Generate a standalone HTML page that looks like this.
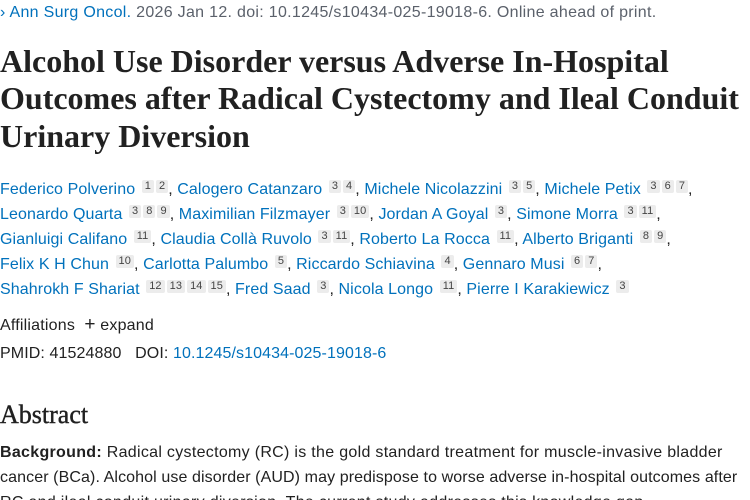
<!DOCTYPE html>
<html><head><meta charset="utf-8"><style>
html,body{margin:0;padding:0;background:#fff;width:750px;height:500px;overflow:hidden}
body{font-family:"Liberation Sans",sans-serif;color:#212121;position:relative}
.l{position:absolute;left:0;white-space:nowrap}
a{color:#0071bc;text-decoration:none}
.t{font-family:"Liberation Serif",serif;font-weight:bold;font-size:32px;color:#212121}
.au{font-size:16px;letter-spacing:0.1px}
.s{display:inline-block;background:#ececec;color:#444;font-size:11px;line-height:13px;padding:0 3px;border-radius:2px;vertical-align:5px;margin-left:2px}
.b{font-size:16px;letter-spacing:0.3px}
</style></head><body>
<div class="l" style="top:4px;font-size:16px;letter-spacing:0.3px"><a>&#x203A; Ann Surg Oncol.</a> <span style="color:#5b616b">2026 Jan 12. doi: 10.1245/s10434-025-19018-6. Online ahead of print.</span></div>
<div class="l t" style="top:43px;">Alcohol Use Disorder versus Adverse In-Hospital</div>
<div class="l t" style="top:80px;">Outcomes after Radical Cystectomy and Ileal Conduit</div>
<div class="l t" style="top:118px;">Urinary Diversion</div>

<div class="l au" style="top:180px;"><a>Federico Polverino</a> <span class="s">1</span><span class="s">2</span>, <a>Calogero Catanzaro</a> <span class="s">3</span><span class="s">4</span>, <a>Michele Nicolazzini</a> <span class="s">3</span><span class="s">5</span>, <a>Michele Petix</a> <span class="s">3</span><span class="s">6</span><span class="s">7</span>,</div>
<div class="l au" style="top:205px;"><a>Leonardo Quarta</a> <span class="s">3</span><span class="s">8</span><span class="s">9</span>, <a>Maximilian Filzmayer</a> <span class="s">3</span><span class="s">10</span>, <a>Jordan A Goyal</a> <span class="s">3</span>, <a>Simone Morra</a> <span class="s">3</span><span class="s">11</span>,</div>
<div class="l au" style="top:230px;"><a>Gianluigi Califano</a> <span class="s">11</span>, <a>Claudia Collà Ruvolo</a> <span class="s">3</span><span class="s">11</span>, <a>Roberto La Rocca</a> <span class="s">11</span>, <a>Alberto Briganti</a> <span class="s">8</span><span class="s">9</span>,</div>
<div class="l au" style="top:255px;"><a>Felix K H Chun</a> <span class="s">10</span>, <a>Carlotta Palumbo</a> <span class="s">5</span>, <a>Riccardo Schiavina</a> <span class="s">4</span>, <a>Gennaro Musi</a> <span class="s">6</span><span class="s">7</span>,</div>
<div class="l au" style="top:280px;"><a>Shahrokh F Shariat</a> <span class="s">12</span><span class="s">13</span><span class="s">14</span><span class="s">15</span>, <a>Fred Saad</a> <span class="s">3</span>, <a>Nicola Longo</a> <span class="s">11</span>, <a>Pierre I Karakiewicz</a> <span class="s">3</span></div>

<div class="l" style="top:317px;font-size:16px;letter-spacing:0.2px">Affiliations &nbsp;<span style="font-size:19px;line-height:15px">+</span> expand</div>
<div class="l" style="top:345px;font-size:16px;letter-spacing:0.1px">PMID: 41524880 &nbsp;&nbsp;DOI: <a>10.1245/s10434-025-19018-6</a></div>

<div class="l" style="top:400px;font-family:'Liberation Serif',serif;font-size:26px;-webkit-text-stroke:0.4px #212121">Abstract</div>
<div class="l b" style="top:444px;"><b>Background:</b> Radical cystectomy (RC) is the gold standard treatment for muscle-invasive bladder</div>
<div class="l b" style="top:469px;letter-spacing:0.1px">cancer (BCa). Alcohol use disorder (AUD) may predispose to worse adverse in-hospital outcomes after</div>
<div class="l b" style="top:494px;">RC and ileal conduit urinary diversion. The current study addresses this knowledge gap.</div>
</body></html>
